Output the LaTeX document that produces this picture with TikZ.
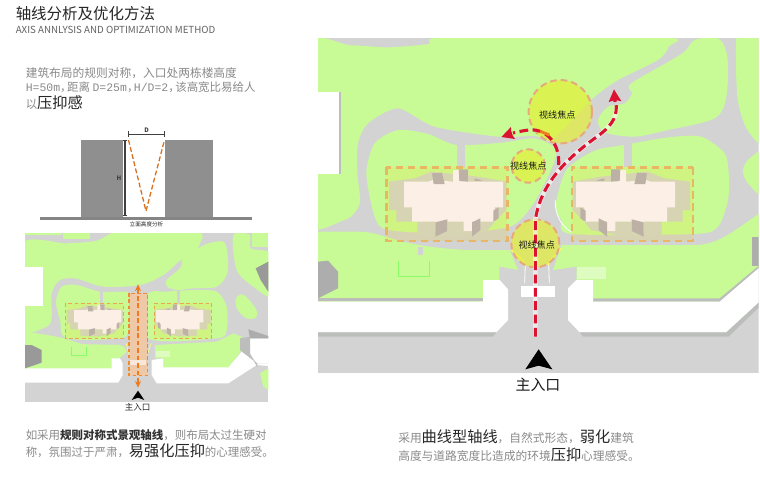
\documentclass[tikz,border=0pt]{standalone}
\usepackage{fontspec}
\setmainfont{Noto Sans CJK SC}
\setmonofont{Liberation Mono}
\usetikzlibrary{arrows.meta}
\definecolor{lawn}{HTML}{C8FA96}
\definecolor{road}{HTML}{D3D3D3}
\definecolor{edgegray}{HTML}{BCBEBC}
\definecolor{redaxis}{HTML}{DB1230}
\definecolor{orangeaxis}{HTML}{F07A1E}
\definecolor{dashorange}{HTML}{E9B666}
\definecolor{dashmini}{HTML}{E8A850}
\definecolor{shadowbld}{HTML}{D6D4B2}
\definecolor{creambld}{HTML}{FCF0E6}
\definecolor{brownbld}{HTML}{BDB1A6}
\definecolor{greytext}{HTML}{8A8A8A}
\definecolor{bldgray}{HTML}{8F8F8F}
\definecolor{focusyellow}{HTML}{E4F032}
\definecolor{focusring}{HTML}{E6A97E}
\definecolor{axisband}{HTML}{EFC8A8}
\tikzset{
  txt/.style={inner sep=0pt,anchor=west,text=greytext,font=\fontsize{8.6}{10}\selectfont},
  txtw/.style={inner sep=0pt,anchor=west,text=greytext,font=\fontsize{8.8}{10}\selectfont},
  lawnfill/.style={fill=lawn,draw=none},
  focus/.style={circle,inner sep=0pt,minimum size=#1,draw=focusring,line width=1.5pt,dash pattern=on 5pt off 3pt,fill=focusyellow,fill opacity=.68,text opacity=1},
  flabel/.style={inner sep=0pt,font=\fontsize{6.8}{7}\selectfont,text=black!90},
  redline/.style={draw=redaxis,line width=2.3pt,dash pattern=on 6.6pt off 3.4pt},
  entry/.style={fill=black,draw=none},
}
\newcommand{\hb}[1]{{\color{black!85}\fontsize{11.4}{12}\selectfont #1}}
\newcommand{\cm}{，\hspace{-3.4pt}}
% one building with its dashed plot, in the large plan's units
\newcommand{\bldgunit}[2]{%
  \fill[yellow!70!orange,opacity=.14] (205,412) rectangle (568,632);
  \fill[shadowbld] (213,455) -- (290,445) -- (340,425) -- (480,440) -- (565,455) -- (565,540) -- (530,575) -- (510,600) -- (408,620) -- (298,615) -- (298,575) -- (235,575) -- (235,540) -- (213,540) -- cycle;
  \fill[creambld] (258,455) -- (330,455) -- (345,450) -- (405,455) -- (405,420) -- (450,420) -- (450,455) -- (555,455) -- (555,532) -- (530,532) -- (530,575) -- (490,575) -- (462,575) -- (462,603) -- (437,603) -- (437,575) -- (388,575) -- (388,603) -- (352,603) -- (352,575) -- (282,575) -- (282,532) -- (258,532) -- cycle;
  \fill[brownbld] (342,430) -- (372,428) -- (380,462) -- (347,462) -- cycle;
  \fill[brownbld] (422,418) -- (450,418) -- (450,455) -- (424,453) -- cycle;
  \fill[brownbld] (470,445) -- (495,452) -- (470,453) -- cycle;
  \fill[brownbld] (352,577) -- (388,568) -- (388,603) -- (352,620) -- cycle;
  \fill[brownbld] (462,577) -- (487,565) -- (487,600) -- (462,620) -- cycle;
  \fill[brownbld] (526,542) -- (542,532) -- (542,565) -- (526,575) -- cycle;
  \draw[#1,#2] (205,412) rectangle (568,632);
}
\begin{document}
\begin{tikzpicture}[x=0.75pt,y=-0.75pt]
\useasboundingbox (0,0) rectangle (760,476);
\fill[white] (0,0) rectangle (760,476);

% headings
\node[anchor=west,inner sep=0pt,text=black!85,font=\fontsize{11.6}{13}\selectfont] (title) at (15.5,14) {轴线分析及优化方法};
\node[anchor=west,inner sep=0pt,text=black!62,font=\fontsize{7.3}{8}\selectfont] (subtitle) at (15.5,30) {AXIS ANNLYSIS AND OPTIMIZATION METHOD};

% first paragraph
\node[txtw] (p1) at (25.5,73) {建筑布局的规则对称，入口处两栋楼高度};
\node[txt] (p2) at (25.5,87) {\texttt{H=50m}\cm 距离 \texttt{D=25m}\cm\texttt{H/D=2}\cm 该高宽比易给人};
\node[txt] (p3) at (25.5,103) {以\hb{压抑感}};

% elevation
\fill[bldgray] (81,140) rectangle (123,217);
\fill[bldgray] (165,140) rectangle (213,217);
\fill[black!48] (40,216.5) rectangle (252,219.5);
\coordinate (hT) at (125,140); \coordinate (hB) at (125,216);
\coordinate (dL) at (128,134); \coordinate (dR) at (165,134);
\draw[black!75,line width=.8pt,{Bar[width=3pt]}-{Bar[width=3pt]}] (hT) -- (hB);
\draw[black!75,line width=.6pt,{Bar[width=4pt]}-{Bar[width=4pt]}] (dL) -- (dR);
\coordinate (vL) at (128.5,140); \coordinate (vB) at (146,211); \coordinate (vR) at (164.5,140);
\draw[orangeaxis!90!black,line width=.95pt,dash pattern=on 3.6pt off 1.9pt] (vL) -- (vB) -- (vR);
\node[inner sep=0pt,font=\fontsize{4.6}{5}\bfseries\selectfont,text=black!75] (dlabel) at (146.5,130.5) {D};
\node[inner sep=0pt,font=\fontsize{4.6}{5}\bfseries\selectfont,text=black!75] (hlabel) at (119,178.5) {H};
\node[inner sep=0pt,font=\fontsize{4.2}{5}\selectfont,text=black!85] (ecap) at (146.5,224.5) {立面高度分析};

% ===== small plan =====
\begin{scope}[shift={(20,230)},x=0.25pt,y=-0.25pt]
\clip (15,10) rectangle (745,515);
\fill[road] (15,10) rectangle (745,515);
\fill[lawnfill] (130,10) rectangle (210,28);
\fill[lawnfill] (15,10) rectangle (125,14);
\fill[lawnfill] plot[smooth cycle,tension=.5] coordinates {(0,45) (140,40) (230,32) (300,5) (530,5) (540,40) (520,70) (480,92) (430,135) (360,165) (250,170) (170,146) (120,150) (95,190) (95,260) (80,290) (0,295)};
\fill[white] (15,110) rectangle (70,228);
\fill[lawnfill] plot[smooth cycle,tension=.5] coordinates {(440,150) (482,112) (490,82) (560,42) (610,35) (622,70) (622,130) (590,170) (520,175) (470,180) (442,170)};
\fill[lawnfill] plot[smooth cycle,tension=.5] coordinates {(640,15) (690,15) (692,55) (760,75) (760,200) (700,170) (650,120)};
\fill[lawnfill] (695,10) rectangle (745,50);
\fill[lawnfill] plot[smooth cycle,tension=.6] coordinates {(648,205) (672,195) (708,238) (708,262) (680,265) (652,238)};
\fill[lawnfill] plot[smooth cycle,tension=.5] coordinates {(108,215) (125,170) (170,165) (240,185) (310,185) (327,195) (327,295) (300,325) (140,325) (120,270)};
\fill[road] (240,180) rectangle (250,222);
\fill[lawnfill] plot[smooth cycle,tension=.5] coordinates {(383,195) (440,185) (530,180) (590,185) (620,230) (620,300) (590,325) (383,325)};
\fill[road] (470,180) rectangle (480,222);
\fill[lawnfill] plot[smooth cycle,tension=.35] coordinates {(0,310) (120,322) (190,342) (300,345) (320,365) (298,385) (275,430) (0,430)};
\fill[lawnfill] (405,345) -- (590,335) -- (640,310) -- (665,320) -- (665,360) -- (625,415) -- (430,415) -- (430,385) -- (405,385) -- cycle;
\fill[lawnfill] (720,430) -- (745,415) -- (745,480) -- (730,470) -- cycle;
\fill[white] (15,415) -- (275,415) -- (275,385) -- (300,385) -- (308,400) -- (308,435) -- (295,458) -- (15,458) -- cycle;
\fill[white] (395,390) -- (430,385) -- (430,412) -- (625,412) -- (665,365) -- (710,400) -- (745,400) -- (745,408) -- (710,405) -- (625,460) -- (410,460) -- (395,435) -- cycle;
\fill[white] (690,325) -- (745,325) -- (745,400) -- (710,400) -- (690,370) -- cycle;
\fill[edgegray] (660,325) -- (690,320) -- (690,372) -- (712,412) -- (712,400) -- (660,360) -- cycle;
\fill[black!32] (685,298) -- (745,318) -- (745,325) -- (690,325) -- cycle;
\fill[black!40] (707,115) -- (745,95) -- (745,185) -- (722,150) -- cycle;
\fill[black!40] (15,345) -- (35,345) -- (65,360) -- (65,398) -- (15,415) -- cycle;
\fill[white!40!lawn] (408,362) rectangle (450,380);
\draw[lawn!70!green,line width=.5pt] (155,352) -- (155,375) -- (200,375) -- (200,352);
\begin{scope}[shift={(137-205*0.477,220-412*0.477)},x=0.11925pt,y=-0.11925pt]
\bldgunit{dashmini,line width=.8pt}{dash pattern=on 2.8pt off 2pt}
\begin{scope}[shift={(1329,0)},xscale=-1]
\bldgunit{dashmini,line width=.8pt}{dash pattern=on 2.8pt off 2pt}
\end{scope}
\end{scope}
\fill[axisband] (327,190) rectangle (383,437);
\draw[yellow!50!white,line width=.5pt] (318,340) -- (328,375);
\draw[yellow!50!white,line width=.5pt] (393,340) -- (382,375);
\fill[creambld,opacity=.8] (329,390) rectangle (379,405);
\draw[orangeaxis!70!dashorange,line width=.8pt,dash pattern=on 2.8pt off 1.8pt] (327,190) rectangle (383,437);
\coordinate (sT) at (354,163); \coordinate (sB) at (354,473);
\draw[orangeaxis,line width=1.1pt,dash pattern=on 3.6pt off 2pt,{Stealth[length=5pt,width=4.5pt]}-{Stealth[length=5pt,width=4.5pt]}] (sT) -- (sB);
\fill[entry] (354,482) -- (373,510) -- (354,503) -- (335,510) -- cycle;
\end{scope}
\node[inner sep=0pt,font=\fontsize{6.4}{7}\selectfont,text=black!85] (sentry) at (137.7,407.7) {主入口};

% lower left text
\node[txt] (q1) at (25.5,435) {如采用{\color{black!80}\bfseries 规则对称式景观轴线}，则布局太过生硬对};
\node[txt] (q2) at (25.5,451) {称，氛围过于严肃，\hb{易强化压抑}的心理感受。};

% ===== large plan =====
\begin{scope}[shift={(318,30)},x=0.25pt,y=-0.25pt]
\clip (0,25) rectangle (1322,1030);
\fill[road] (0,25) rectangle (1325,1030);
% lawns
\fill[lawnfill] plot[smooth cycle,tension=.45] coordinates {(-60,50) (100,46) (210,52) (330,42) (385,22) (1040,22) (1052,50) (1020,90) (900,150) (830,200) (770,262) (700,330) (650,318) (540,320) (350,290) (240,235) (150,280) (120,340) (118,430) (125,520) (80,570) (-60,572)};
\fill[lawnfill] plot[smooth cycle,tension=.5] coordinates {(940,160) (1090,72) (1130,30) (1200,25) (1228,80) (1225,200) (1190,265) (1050,300) (950,320) (860,307) (840,270) (870,230) (920,220) (942,190)};
\fill[lawnfill] plot[smooth cycle,tension=.4] coordinates {(1258,10) (1340,10) (1340,335) (1285,295) (1258,200)};
\fill[lawnfill] plot[smooth cycle,tension=.6] coordinates {(1340,368) (1295,385) (1275,420) (1290,460) (1340,495)};
\fill[lawnfill] plot[smooth cycle,tension=.45] coordinates {(145,430) (170,340) (240,300) (330,312) (415,345) (550,338) (650,325) (715,360) (690,440) (640,530) (575,590) (400,610) (210,600) (170,560)};
\fill[road] (416,340) rectangle (440,415);
\fill[lawnfill] plot[smooth cycle,tension=.45] coordinates {(712,530) (745,420) (830,362) (918,345) (1050,322) (1150,320) (1220,370) (1232,430) (1230,510) (1200,590) (1130,612) (760,612) (730,570)};
\fill[road] (918,340) rectangle (942,412);
% bottom lawns
\fill[lawnfill] (-10,605) -- (120,605) .. controls (200,605) and (230,650) .. (450,660) -- (575,660) -- (600,720) -- (545,710) -- (545,750) -- (495,750) -- (495,815) -- (-10,815) -- cycle;
\fill[road] (300,650) rectangle (315,675);
\fill[lawnfill] (730,645) -- (1130,645) .. controls (1210,645) and (1260,590) .. (1340,540) -- (1340,700) -- (1195,815) -- (825,815) -- (825,750) -- (775,750) -- (775,710) -- (705,720) -- cycle;
\fill[road] (545,710) .. controls (575,712) and (590,735) .. (600,770) -- (570,780) -- (545,750) -- cycle;
\fill[road] (775,710) .. controls (745,712) and (725,735) .. (715,770) -- (750,780) -- (775,750) -- cycle;
% white strips
\fill[edgegray] (0,805) -- (495,805) -- (495,812) -- (0,812) -- cycle;
\fill[edgegray] (825,805) -- (1205,805) -- (1325,705) -- (1325,712) -- (1205,815) -- (825,815) -- cycle;
\fill[white] (0,815) -- (495,815) -- (495,750) -- (545,750) -- (570,778) -- (570,870) -- (535,907) -- (0,907) -- cycle;
\fill[white] (775,750) -- (825,750) -- (825,815) -- (1205,815) -- (1325,712) -- (1325,815) -- (1225,907) -- (785,907) -- (750,870) -- (750,775) -- cycle;
\fill[edgegray] (0,907) -- (535,907) -- (525,920) -- (0,920) -- cycle;
\fill[edgegray] (785,907) -- (1225,907) -- (1325,815) -- (1325,830) -- (1232,920) -- (795,920) -- cycle;
\fill[white] (0,185) rectangle (62,432);
\fill[edgegray] (62,185) rectangle (70,432);
\fill[white] (608,768) rectangle (712,800);
\fill[white!40!lawn] (777,710) rectangle (864,748);
\draw[lawn!70!green,line width=.7pt] (241,692) -- (241,738) -- (335,738) -- (335,692);
\fill[black!32] (0,695) -- (30,692) -- (60,725) -- (60,775) -- (0,805) -- cycle;
\fill[black!32] (1303,620) rectangle (1322,708);
\draw[white,line width=.6pt] (712,510) .. controls (710,560) and (735,590) .. (758,605);
\draw[white,line width=.6pt] (622,700) -- (620,760);
\draw[white,line width=.6pt] (692,700) -- (694,760);
% buildings
\bldgunit{dashorange,line width=1.75pt}{dash pattern=on 5.6pt off 3.4pt}
\begin{scope}[shift={(1329,0)},xscale=-1]
\bldgunit{dashorange,line width=1.75pt}{dash pattern=on 5.6pt off 3.4pt}
\end{scope}
\draw[yellow!60!white,line width=1pt] (578,660) .. controls (595,670) and (615,690) .. (622,705);
\draw[yellow!60!white,line width=1pt] (730,655) .. controls (715,670) and (695,690) .. (690,705);
\end{scope}

% focus circles (position in reference pixels)
\node[focus=47.5pt] (f1) at (560.3,111.7) {};
\node[focus=25pt] (f2) at (528.3,166) {};
\node[focus=36pt] (f3) at (535.3,243.3) {};

% red axes
\begin{scope}[shift={(318,30)},x=0.25pt,y=-0.25pt]
\coordinate (a0) at (652,920);
\coordinate (a1) at (652,570);
\coordinate (a2) at (895,230);
\coordinate (a3) at (888,178);
\coordinate (b0) at (722,405);
\coordinate (b1) at (550,321);
\draw[white,opacity=.55,line width=3.4pt] (a0) -- (a1) .. controls (665,480) and (720,405) .. (830,325) .. controls (880,290) and (895,265) .. (a2);
\draw[redline] (a0) -- (a1) .. controls (665,480) and (720,405) .. (830,325) .. controls (880,290) and (895,265) .. (a2) -- (892,210);
\draw[redline,-{Stealth[length=9pt,width=9pt,inset=1pt]}] (891,216) -- (a3);
\draw[redline] (b0) .. controls (725,350) and (700,320) .. (670,305) .. controls (650,297) and (630,298) .. (585,309);
\fill[orangeaxis] (668,300) -- (696,311) -- (692,319) -- (664,307) -- cycle;
\draw[redline,dash pattern=,-{Stealth[length=9pt,width=9pt,inset=1pt]}] (582,310) -- (b1);
\fill[entry] (662,958) -- (703,1018) -- (662,1007) -- (622,1018) -- cycle;
\end{scope}

% circle labels on top
\node[flabel] (t1) at (557.3,115.5) {视线焦点};
\node[flabel] (t2) at (528.3,166) {视线焦点};
\node[flabel] (t3) at (536.7,245.5) {视线焦点};

\node[inner sep=0pt,font=\fontsize{11.2}{12}\selectfont,text=black!90] (mentry) at (538,385) {主入口};

% lower right text
\node[txtw] (r1) at (398,437) {采用\hb{曲线型轴线}，自然式形态，\hb{弱化}建筑};
\node[txtw] (r2) at (398,455) {高度与道路宽度比造成的环境\hb{压抑}心理感受。};
\end{tikzpicture}
\end{document}
